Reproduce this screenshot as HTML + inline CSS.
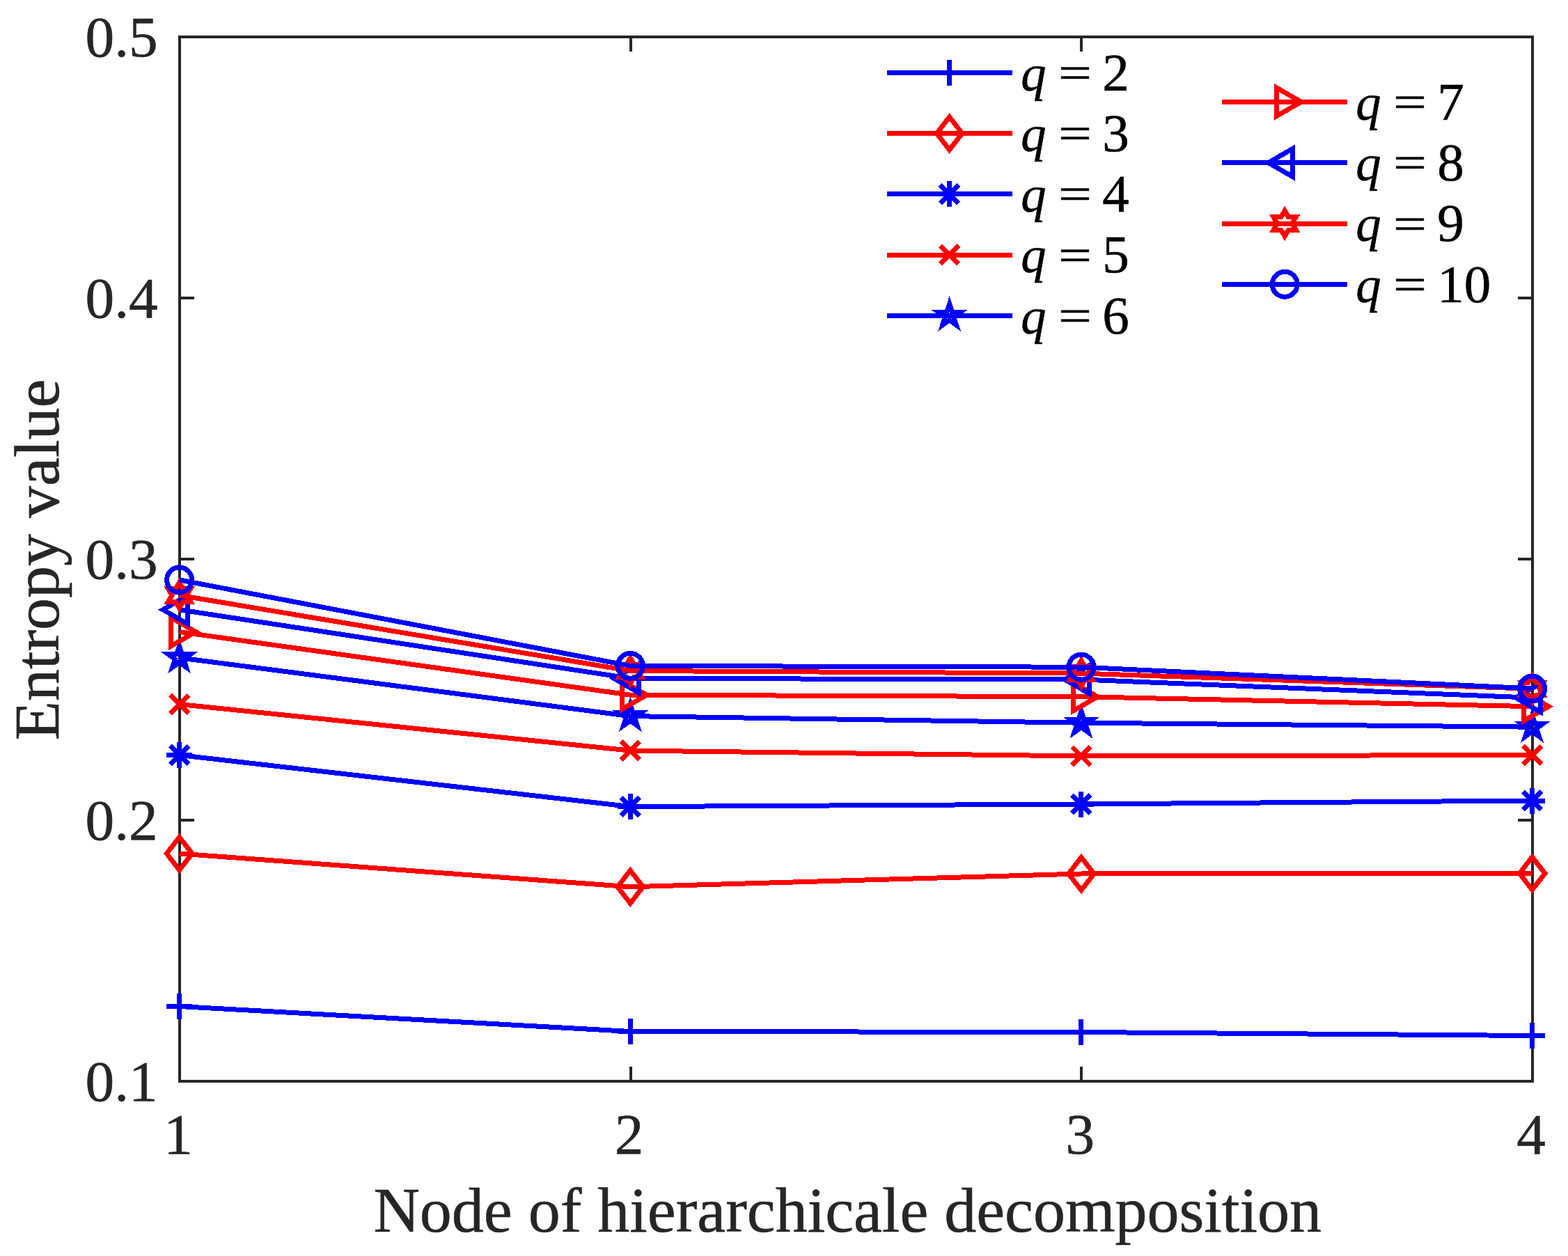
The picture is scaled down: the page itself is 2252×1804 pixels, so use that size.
<!DOCTYPE html>
<html lang="en">
<head>
<meta charset="utf-8">
<title>Entropy value vs node of hierarchicale decomposition</title>
<style>
html,body{margin:0;padding:0;background:#fff;}
body{width:2252px;height:1804px;overflow:hidden;}
svg{display:block;}
text{font-family:"Liberation Serif","Times New Roman",Times,serif;}
.tk{font-size:83.33px;fill:#262626;stroke:#262626;stroke-width:0.6px;}
.lb{font-size:92px;fill:#262626;stroke:#262626;stroke-width:0.6px;}
.lg{font-size:77px;fill:#000;stroke:#000;stroke-width:0.6px;}
.i{font-style:italic;font-size:72.5px;}
</style>
</head>
<body>
<svg width="2252" height="1804" viewBox="0 0 2252 1804" shape-rendering="crispEdges">
<rect width="2252" height="1804" fill="#fff"/>
<g fill="none" stroke="#262626" stroke-width="4" stroke-linecap="butt">
<rect x="258" y="53" width="1943" height="1500"/>
<path d="M905.67 1553V1532M905.67 53V74M1553.33 1553V1532M1553.33 53V74M258 1178H279M2201 1178H2180M258 803H279M2201 803H2180M258 428H279M2201 428H2180"/>
</g>
<g class="tk" text-anchor="end">
<text x="226.7" y="1580.6">0.1</text>
<text x="226.7" y="1205.6">0.2</text>
<text x="226.7" y="830.6">0.3</text>
<text x="226.7" y="455.6">0.4</text>
<text x="226.7" y="80.6">0.5</text>
</g>
<g class="tk" text-anchor="middle">
<text x="256" y="1657">1</text>
<text x="903.67" y="1657">2</text>
<text x="1551.33" y="1657">3</text>
<text x="2199" y="1657">4</text>
</g>
<text class="lb" x="536.4" y="1768.6">Node of hierarchicale decomposition</text>
<text class="lb" text-anchor="middle" transform="translate(83.5 804) rotate(-90)">Entropy value</text>
<g>
<polyline points="257.6,1445.5 905.27,1481.5 1552.93,1482.5 2200.6,1487.5" fill="none" stroke="#0000ff" stroke-width="7" stroke-linejoin="miter" stroke-linecap="butt"/>
<path d="M239.1 1445.5H276.1M257.6 1427V1464" fill="none" stroke="#0000ff" stroke-width="7" stroke-linejoin="miter" stroke-miterlimit="20"/>
<path d="M886.77 1481.5H923.77M905.27 1463V1500" fill="none" stroke="#0000ff" stroke-width="7" stroke-linejoin="miter" stroke-miterlimit="20"/>
<path d="M1534.43 1482.5H1571.43M1552.93 1464V1501" fill="none" stroke="#0000ff" stroke-width="7" stroke-linejoin="miter" stroke-miterlimit="20"/>
<path d="M2182.1 1487.5H2219.1M2200.6 1469V1506" fill="none" stroke="#0000ff" stroke-width="7" stroke-linejoin="miter" stroke-miterlimit="20"/>
</g>
<g>
<polyline points="257.6,1226 905.27,1273.8 1552.93,1255 2200.6,1254.5" fill="none" stroke="#ff0000" stroke-width="7" stroke-linejoin="miter" stroke-linecap="butt"/>
<path d="M257.6 1202.4L275.9 1226L257.6 1249.6L239.3 1226Z" fill="none" stroke="#ff0000" stroke-width="7" stroke-linejoin="miter" stroke-miterlimit="20"/>
<path d="M905.27 1250.2L923.57 1273.8L905.27 1297.4L886.97 1273.8Z" fill="none" stroke="#ff0000" stroke-width="7" stroke-linejoin="miter" stroke-miterlimit="20"/>
<path d="M1552.93 1231.4L1571.23 1255L1552.93 1278.6L1534.63 1255Z" fill="none" stroke="#ff0000" stroke-width="7" stroke-linejoin="miter" stroke-miterlimit="20"/>
<path d="M2200.6 1230.9L2218.9 1254.5L2200.6 1278.1L2182.3 1254.5Z" fill="none" stroke="#ff0000" stroke-width="7" stroke-linejoin="miter" stroke-miterlimit="20"/>
</g>
<g>
<polyline points="257.6,1084.5 905.27,1158.6 1552.93,1155 2200.6,1150" fill="none" stroke="#0000ff" stroke-width="7" stroke-linejoin="miter" stroke-linecap="butt"/>
<path d="M239.1 1084.5H276.1M257.6 1066V1103M244.4 1071.3L270.8 1097.7M244.4 1097.7L270.8 1071.3" fill="none" stroke="#0000ff" stroke-width="7" stroke-linejoin="miter" stroke-miterlimit="20"/>
<path d="M886.77 1158.6H923.77M905.27 1140.1V1177.1M892.07 1145.4L918.47 1171.8M892.07 1171.8L918.47 1145.4" fill="none" stroke="#0000ff" stroke-width="7" stroke-linejoin="miter" stroke-miterlimit="20"/>
<path d="M1534.43 1155H1571.43M1552.93 1136.5V1173.5M1539.73 1141.8L1566.13 1168.2M1539.73 1168.2L1566.13 1141.8" fill="none" stroke="#0000ff" stroke-width="7" stroke-linejoin="miter" stroke-miterlimit="20"/>
<path d="M2182.1 1150H2219.1M2200.6 1131.5V1168.5M2187.4 1136.8L2213.8 1163.2M2187.4 1163.2L2213.8 1136.8" fill="none" stroke="#0000ff" stroke-width="7" stroke-linejoin="miter" stroke-miterlimit="20"/>
</g>
<g>
<polyline points="257.6,1011.5 905.27,1078.1 1552.93,1085.9 2200.6,1084.5" fill="none" stroke="#ff0000" stroke-width="7" stroke-linejoin="miter" stroke-linecap="butt"/>
<path d="M244.4 998.3L270.8 1024.7M244.4 1024.7L270.8 998.3" fill="none" stroke="#ff0000" stroke-width="7" stroke-linejoin="miter" stroke-miterlimit="20"/>
<path d="M892.07 1064.9L918.47 1091.3M892.07 1091.3L918.47 1064.9" fill="none" stroke="#ff0000" stroke-width="7" stroke-linejoin="miter" stroke-miterlimit="20"/>
<path d="M1539.73 1072.7L1566.13 1099.1M1539.73 1099.1L1566.13 1072.7" fill="none" stroke="#ff0000" stroke-width="7" stroke-linejoin="miter" stroke-miterlimit="20"/>
<path d="M2187.4 1071.3L2213.8 1097.7M2187.4 1097.7L2213.8 1071.3" fill="none" stroke="#ff0000" stroke-width="7" stroke-linejoin="miter" stroke-miterlimit="20"/>
</g>
<g>
<polyline points="257.6,944.8 905.27,1028.6 1552.93,1038.2 2200.6,1044.2" fill="none" stroke="#0000ff" stroke-width="7" stroke-linejoin="miter" stroke-linecap="butt"/>
<path d="M257.6 928L261.37 939.61L273.58 939.61L263.7 946.78L267.47 958.39L257.6 951.22L247.73 958.39L251.5 946.78L241.62 939.61L253.83 939.61Z" fill="none" stroke="#0000ff" stroke-width="7" stroke-linejoin="miter" stroke-miterlimit="20"/>
<path d="M905.27 1011.8L909.04 1023.41L921.24 1023.41L911.37 1030.58L915.14 1042.19L905.27 1035.02L895.39 1042.19L899.16 1030.58L889.29 1023.41L901.49 1023.41Z" fill="none" stroke="#0000ff" stroke-width="7" stroke-linejoin="miter" stroke-miterlimit="20"/>
<path d="M1552.93 1021.4L1556.71 1033.01L1568.91 1033.01L1559.04 1040.18L1562.81 1051.79L1552.93 1044.62L1543.06 1051.79L1546.83 1040.18L1536.96 1033.01L1549.16 1033.01Z" fill="none" stroke="#0000ff" stroke-width="7" stroke-linejoin="miter" stroke-miterlimit="20"/>
<path d="M2200.6 1027.4L2204.37 1039.01L2216.58 1039.01L2206.7 1046.18L2210.47 1057.79L2200.6 1050.62L2190.73 1057.79L2194.5 1046.18L2184.62 1039.01L2196.83 1039.01Z" fill="none" stroke="#0000ff" stroke-width="7" stroke-linejoin="miter" stroke-miterlimit="20"/>
</g>
<g>
<polyline points="257.6,907.5 905.27,998.2 1552.93,1000.7 2200.6,1014.7" fill="none" stroke="#ff0000" stroke-width="7" stroke-linejoin="miter" stroke-linecap="butt"/>
<path d="M245.83 887.11L281.14 907.5L245.83 927.89Z" fill="none" stroke="#ff0000" stroke-width="7" stroke-linejoin="miter" stroke-miterlimit="20"/>
<path d="M893.5 977.81L928.81 998.2L893.5 1018.59Z" fill="none" stroke="#ff0000" stroke-width="7" stroke-linejoin="miter" stroke-miterlimit="20"/>
<path d="M1541.16 980.31L1576.47 1000.7L1541.16 1021.09Z" fill="none" stroke="#ff0000" stroke-width="7" stroke-linejoin="miter" stroke-miterlimit="20"/>
<path d="M2188.83 994.31L2224.14 1014.7L2188.83 1035.09Z" fill="none" stroke="#ff0000" stroke-width="7" stroke-linejoin="miter" stroke-miterlimit="20"/>
</g>
<g>
<polyline points="257.6,875.7 905.27,974.4 1552.93,976 2200.6,1002.2" fill="none" stroke="#0000ff" stroke-width="7" stroke-linejoin="miter" stroke-linecap="butt"/>
<path d="M269.37 855.31L234.06 875.7L269.37 896.09Z" fill="none" stroke="#0000ff" stroke-width="7" stroke-linejoin="miter" stroke-miterlimit="20"/>
<path d="M917.04 954.01L881.73 974.4L917.04 994.79Z" fill="none" stroke="#0000ff" stroke-width="7" stroke-linejoin="miter" stroke-miterlimit="20"/>
<path d="M1564.7 955.61L1529.39 976L1564.7 996.39Z" fill="none" stroke="#0000ff" stroke-width="7" stroke-linejoin="miter" stroke-miterlimit="20"/>
<path d="M2212.37 981.81L2177.06 1002.2L2212.37 1022.59Z" fill="none" stroke="#0000ff" stroke-width="7" stroke-linejoin="miter" stroke-miterlimit="20"/>
</g>
<g>
<polyline points="257.6,855 905.27,963.5 1552.93,967.1 2200.6,989.3" fill="none" stroke="#ff0000" stroke-width="7" stroke-linejoin="miter" stroke-linecap="butt"/>
<path d="M257.6 836.5L262.94 845.75L273.62 845.75L268.28 855L273.62 864.25L262.94 864.25L257.6 873.5L252.26 864.25L241.58 864.25L246.92 855L241.58 845.75L252.26 845.75Z" fill="none" stroke="#ff0000" stroke-width="7" stroke-linejoin="miter" stroke-miterlimit="20"/>
<path d="M905.27 945L910.61 954.25L921.29 954.25L915.95 963.5L921.29 972.75L910.61 972.75L905.27 982L899.93 972.75L889.25 972.75L894.59 963.5L889.25 954.25L899.93 954.25Z" fill="none" stroke="#ff0000" stroke-width="7" stroke-linejoin="miter" stroke-miterlimit="20"/>
<path d="M1552.93 948.6L1558.27 957.85L1568.95 957.85L1563.61 967.1L1568.95 976.35L1558.27 976.35L1552.93 985.6L1547.59 976.35L1536.91 976.35L1542.25 967.1L1536.91 957.85L1547.59 957.85Z" fill="none" stroke="#ff0000" stroke-width="7" stroke-linejoin="miter" stroke-miterlimit="20"/>
<path d="M2200.6 970.8L2205.94 980.05L2216.62 980.05L2211.28 989.3L2216.62 998.55L2205.94 998.55L2200.6 1007.8L2195.26 998.55L2184.58 998.55L2189.92 989.3L2184.58 980.05L2195.26 980.05Z" fill="none" stroke="#ff0000" stroke-width="7" stroke-linejoin="miter" stroke-miterlimit="20"/>
</g>
<g>
<polyline points="257.6,832.9 905.27,956.4 1552.93,958.2 2200.6,989" fill="none" stroke="#0000ff" stroke-width="7" stroke-linejoin="miter" stroke-linecap="butt"/>
<circle cx="257.6" cy="832.9" r="18" fill="none" stroke="#0000ff" stroke-width="7" stroke-linejoin="miter" stroke-miterlimit="20"/>
<circle cx="905.27" cy="956.4" r="18" fill="none" stroke="#0000ff" stroke-width="7" stroke-linejoin="miter" stroke-miterlimit="20"/>
<circle cx="1552.93" cy="958.2" r="18" fill="none" stroke="#0000ff" stroke-width="7" stroke-linejoin="miter" stroke-miterlimit="20"/>
<circle cx="2200.6" cy="989" r="18" fill="none" stroke="#0000ff" stroke-width="7" stroke-linejoin="miter" stroke-miterlimit="20"/>
</g>
<g>
<path d="M1274 104.4H1454" fill="none" stroke="#0000ff" stroke-width="7"/>
<path d="M1345.1 104.4H1382.1M1363.6 85.9V122.9" fill="none" stroke="#0000ff" stroke-width="7" stroke-linejoin="miter" stroke-miterlimit="20"/>
<text class="lg i" x="1466.3" y="129.8">q</text>
<text class="lg" transform="translate(1544 127.05) scale(1.105 0.84)" text-anchor="middle">=</text>
<text class="lg" x="1583.2" y="129.8">2</text>
</g>
<g>
<path d="M1274 191.6H1454" fill="none" stroke="#ff0000" stroke-width="7"/>
<path d="M1363.6 168L1381.9 191.6L1363.6 215.2L1345.3 191.6Z" fill="none" stroke="#ff0000" stroke-width="7" stroke-linejoin="miter" stroke-miterlimit="20"/>
<text class="lg i" x="1466.3" y="217">q</text>
<text class="lg" transform="translate(1544 214.25) scale(1.105 0.84)" text-anchor="middle">=</text>
<text class="lg" x="1583.2" y="217">3</text>
</g>
<g>
<path d="M1274 278.8H1454" fill="none" stroke="#0000ff" stroke-width="7"/>
<path d="M1345.1 278.8H1382.1M1363.6 260.3V297.3M1350.4 265.6L1376.8 292M1350.4 292L1376.8 265.6" fill="none" stroke="#0000ff" stroke-width="7" stroke-linejoin="miter" stroke-miterlimit="20"/>
<text class="lg i" x="1466.3" y="304.2">q</text>
<text class="lg" transform="translate(1544 301.45) scale(1.105 0.84)" text-anchor="middle">=</text>
<text class="lg" x="1583.2" y="304.2">4</text>
</g>
<g>
<path d="M1274 366H1454" fill="none" stroke="#ff0000" stroke-width="7"/>
<path d="M1350.4 352.8L1376.8 379.2M1350.4 379.2L1376.8 352.8" fill="none" stroke="#ff0000" stroke-width="7" stroke-linejoin="miter" stroke-miterlimit="20"/>
<text class="lg i" x="1466.3" y="391.4">q</text>
<text class="lg" transform="translate(1544 388.65) scale(1.105 0.84)" text-anchor="middle">=</text>
<text class="lg" x="1583.2" y="391.4">5</text>
</g>
<g>
<path d="M1274 453.3H1454" fill="none" stroke="#0000ff" stroke-width="7"/>
<path d="M1363.6 436.5L1367.37 448.11L1379.58 448.11L1369.7 455.28L1373.47 466.89L1363.6 459.72L1353.73 466.89L1357.5 455.28L1347.62 448.11L1359.83 448.11Z" fill="none" stroke="#0000ff" stroke-width="7" stroke-linejoin="miter" stroke-miterlimit="20"/>
<text class="lg i" x="1466.3" y="478.7">q</text>
<text class="lg" transform="translate(1544 475.95) scale(1.105 0.84)" text-anchor="middle">=</text>
<text class="lg" x="1583.2" y="478.7">6</text>
</g>
<g>
<path d="M1755 146.4H1935" fill="none" stroke="#ff0000" stroke-width="7"/>
<path d="M1833.43 126.01L1868.74 146.4L1833.43 166.79Z" fill="none" stroke="#ff0000" stroke-width="7" stroke-linejoin="miter" stroke-miterlimit="20"/>
<text class="lg i" x="1947.3" y="171.8">q</text>
<text class="lg" transform="translate(2025 169.05) scale(1.105 0.84)" text-anchor="middle">=</text>
<text class="lg" x="2064.2" y="171.8">7</text>
</g>
<g>
<path d="M1755 233.7H1935" fill="none" stroke="#0000ff" stroke-width="7"/>
<path d="M1856.97 213.31L1821.66 233.7L1856.97 254.09Z" fill="none" stroke="#0000ff" stroke-width="7" stroke-linejoin="miter" stroke-miterlimit="20"/>
<text class="lg i" x="1947.3" y="259.1">q</text>
<text class="lg" transform="translate(2025 256.35) scale(1.105 0.84)" text-anchor="middle">=</text>
<text class="lg" x="2064.2" y="259.1">8</text>
</g>
<g>
<path d="M1755 321H1935" fill="none" stroke="#ff0000" stroke-width="7"/>
<path d="M1845.2 302.5L1850.54 311.75L1861.22 311.75L1855.88 321L1861.22 330.25L1850.54 330.25L1845.2 339.5L1839.86 330.25L1829.18 330.25L1834.52 321L1829.18 311.75L1839.86 311.75Z" fill="none" stroke="#ff0000" stroke-width="7" stroke-linejoin="miter" stroke-miterlimit="20"/>
<text class="lg i" x="1947.3" y="346.4">q</text>
<text class="lg" transform="translate(2025 343.65) scale(1.105 0.84)" text-anchor="middle">=</text>
<text class="lg" x="2064.2" y="346.4">9</text>
</g>
<g>
<path d="M1755 408.3H1935" fill="none" stroke="#0000ff" stroke-width="7"/>
<circle cx="1845.2" cy="408.3" r="18" fill="none" stroke="#0000ff" stroke-width="7" stroke-linejoin="miter" stroke-miterlimit="20"/>
<text class="lg i" x="1947.3" y="433.7">q</text>
<text class="lg" transform="translate(2025 430.95) scale(1.105 0.84)" text-anchor="middle">=</text>
<text class="lg" x="2064.2" y="433.7">10</text>
</g>
</svg>
</body>
</html>
